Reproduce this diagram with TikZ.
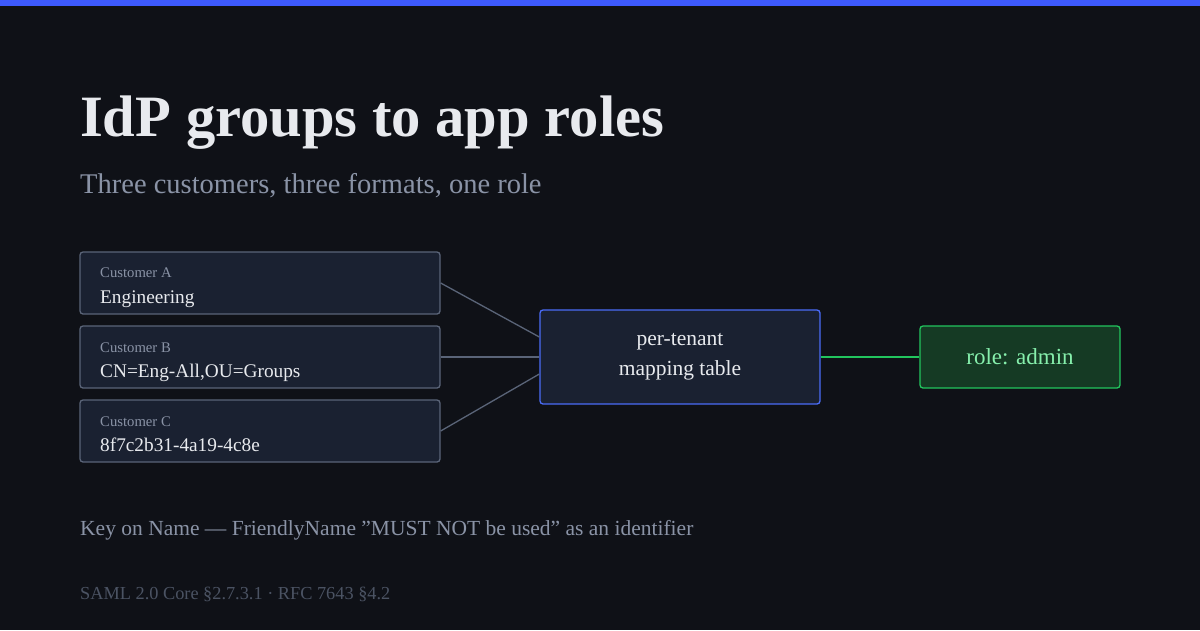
\documentclass[tikz,border=0pt]{standalone}
\usepackage{fontspec}
\setmainfont{Liberation Serif}
\begin{document}
\definecolor{bg}{HTML}{0F1117}
\definecolor{bar}{HTML}{3D5AFE}
\definecolor{boxfill}{HTML}{1A2131}
\definecolor{boxline}{HTML}{5A6478}
\definecolor{centerline}{HTML}{4A6CF7}
\definecolor{gline}{HTML}{22C55E}
\definecolor{gfill}{HTML}{153A24}
\definecolor{gtext}{HTML}{86EFAC}
\definecolor{titlec}{HTML}{E8EAEE}
\definecolor{subc}{HTML}{8A93A6}
\definecolor{smallc}{HTML}{8A93A6}
\definecolor{footc}{HTML}{4B5363}
\begin{tikzpicture}[x=1pt,y=-1pt,
  src/.style={draw=boxline,fill=boxfill,rounded corners=3pt,line width=1.3pt,minimum width=360pt,minimum height=62pt,inner sep=0pt},
  lbl/.style={anchor=base west,inner sep=0pt,font=\fontsize{14.7}{16}\selectfont,text=smallc},
  val/.style={anchor=base west,inner sep=0pt,font=\fontsize{19.3}{22}\selectfont,text=titlec},
  conn/.style={draw=boxline,line width=1.3pt}]
\fill[bg] (0,0) rectangle (1200,630);
\useasboundingbox (0,0) rectangle (1200,630);
\fill[bar] (0,0) rectangle (1200,6);
\node[anchor=base west,inner sep=0pt,text=titlec,font=\fontsize{58.6}{62}\selectfont\bfseries] (title) at (80,136) {IdP groups to app roles};
\node[anchor=base west,inner sep=0pt,text=subc,font=\fontsize{28.5}{32}\selectfont] (sub) at (80,193) {Three customers, three formats, one role};
\node[src] (a) at (260,283) {};
\node[src] (b) at (260,357) {};
\node[src] (c) at (260,431) {};
\node[lbl] (al) at (100,277) {Customer A};
\node[val] (av) at (100,303) {Engineering};
\node[lbl] (bl) at (100,352) {Customer B};
\node[val] (bv) at (100,377) {CN=Eng-All,OU=Groups};
\node[lbl] (cl) at (100,426) {Customer C};
\node[val] (cv) at (100,451) {8f7c2b31-4a19-4c8e};
\node[draw=centerline,fill=boxfill,rounded corners=3pt,line width=1.3pt,minimum width=280pt,minimum height=94pt,align=center,text=titlec,font=\fontsize{21.5}{30}\selectfont] (m) at (680,357) {per-tenant\\mapping table};
\node[draw=gline,fill=gfill,rounded corners=3pt,line width=1.3pt,minimum width=200pt,minimum height=62pt,text=gtext,font=\fontsize{23}{26}\selectfont] (g) at (1020,357) {role: admin};
\draw[conn] (a.east) -- (m.west |- 0,337);
\draw[conn] (b.east) -- (m.west);
\draw[conn] (c.east) -- (m.west |- 0,374);
\draw[draw=gline,line width=2pt] (m.east) -- (g.west);
\node[anchor=base west,inner sep=0pt,text=subc,font=\fontsize{21.5}{24}\selectfont] (key) at (80,535) {Key on Name — FriendlyName \symbol{34}MUST NOT be used\symbol{34} as an identifier};
\node[anchor=base west,inner sep=0pt,text=footc,font=\fontsize{18.3}{20}\selectfont] (foot) at (80,599) {SAML 2.0 Core §2.7.3.1 · RFC 7643 §4.2};
\end{tikzpicture}
\end{document}
